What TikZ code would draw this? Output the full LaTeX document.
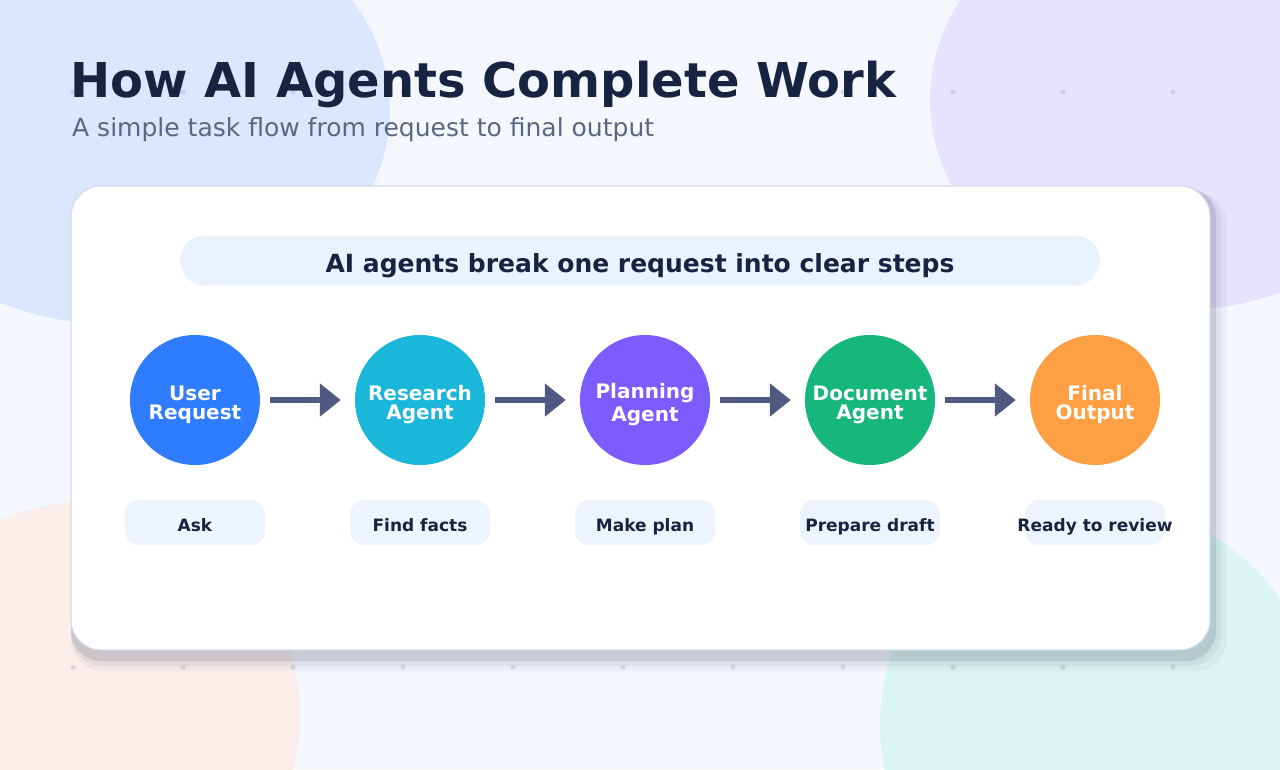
\documentclass[tikz,border=0pt]{standalone}
\usepackage{fontspec}
\setmainfont{DejaVu Sans}
\usetikzlibrary{arrows.meta}
\definecolor{bg}{HTML}{F4F7FE}
\definecolor{blobblue}{HTML}{DAE7FE}
\definecolor{blobpurple}{HTML}{E7E3FF}
\definecolor{blobpeach}{HTML}{FBEEEA}
\definecolor{blobmint}{HTML}{DBF6F0}
\definecolor{navy}{HTML}{172341}
\definecolor{subgrey}{HTML}{5B6781}
\definecolor{cardline}{HTML}{D3DAE9}
\definecolor{bannerfill}{HTML}{EAF2FE}
\definecolor{pillfill}{HTML}{EEF4FE}
\definecolor{arrowc}{HTML}{4F5A80}
\definecolor{cblue}{HTML}{2F7CFF}
\definecolor{ccyan}{HTML}{1BB7DA}
\definecolor{cpurple}{HTML}{7B5CFF}
\definecolor{cgreen}{HTML}{16B67C}
\definecolor{corange}{HTML}{FF9F43}
\definecolor{shadowc}{HTML}{1F2A4A}
\begin{document}
\begin{tikzpicture}[x=1pt,y=-1pt,
  agent/.style={circle, minimum size=130pt, inner sep=0pt},
  agenttext/.style={inner sep=0pt, text=white, align=center,
    font=\bfseries\fontsize{20}{19}\selectfont},
  pill/.style={rectangle, rounded corners=14pt, fill=pillfill, minimum width=140pt,
    minimum height=45pt, inner sep=0pt, text=navy, text height=17pt, text depth=0pt,
    font=\bfseries\fontsize{17}{19}\selectfont},
  flow/.style={arrowc, line width=6pt, -{Triangle[length=21pt,width=32pt]}},
  gdot/.style={fill=shadowc, fill opacity=0.12},
]
\useasboundingbox (0,0) rectangle (1280,769);
\begin{scope}
\clip (0,0) rectangle (1280,769);
\fill[bg] (0,0) rectangle (1280,769);
\fill[blobblue] (120,110) ellipse[x radius=270pt, y radius=215pt];
\fill[blobpurple] (1180,100) ellipse[x radius=250pt, y radius=210pt];
\fill[blobpeach] (87,715) circle[radius=213pt];
\fill[blobmint] (1100,725) circle[radius=220pt];
\foreach \x in {73,183,...,1173} {
  \fill[gdot] (\x,92) circle[radius=2.5pt];
  \fill[gdot] (\x,667) circle[radius=2.5pt];
}
\end{scope}
% title
\node[anchor=base west, inner sep=0pt, text=navy, font=\bfseries\fontsize{48}{56}\selectfont]
  (title) at (70,97) {How AI Agents Complete Work};
\node[anchor=base west, inner sep=0pt, text=subgrey, font=\fontsize{25}{29}\selectfont]
  (subtitle) at (72,136) {A simple task flow from request to final output};
% card shadow
\fill[shadowc, opacity=0.04, rounded corners=32pt] (71,192) rectangle (1227,671);
\fill[shadowc, opacity=0.06, rounded corners=31pt] (71,190) rectangle (1221,666);
\fill[shadowc, opacity=0.12, rounded corners=30pt] (71,188) rectangle (1216,661);
% card
\node[draw=cardline, line width=1.2pt, fill=white, rounded corners=30pt,
  minimum width=1139pt, minimum height=464pt, inner sep=0pt] (card) at (640.5,418) {};
% banner
\node[fill=bannerfill, rounded corners=25pt, minimum width=920pt, minimum height=50pt,
  inner sep=0pt, text=navy, text height=23pt, text depth=0pt,
  font=\bfseries\fontsize{25}{29}\selectfont] (banner) at (640,260.5)
  {AI agents break one request into clear steps};
% agents
\node[agent, fill=cblue] (c1) at (195,400) {};
\node[agent, fill=ccyan] (c2) at (420,400) {};
\node[agent, fill=cpurple] (c3) at (645,400) {};
\node[agent, fill=cgreen] (c4) at (870,400) {};
\node[agent, fill=corange] (c5) at (1095,400) {};
\node[agenttext] (t1) at ([yshift=-4.5pt]c1.center) {User\\Request};
\node[agenttext] (t2) at ([yshift=-4.5pt]c2.center) {Research\\Agent};
\node[agenttext] (t3) at ([yshift=-4.5pt]c3.center) {Planning\\[4pt]Agent};
\node[agenttext] (t4) at ([yshift=-4.5pt]c4.center) {Document\\Agent};
\node[agenttext] (t5) at ([yshift=-4.5pt]c5.center) {Final\\Output};
% arrows
\draw[flow] ([xshift=10pt]c1.east) -- ([xshift=-14pt]c2.west);
\draw[flow] ([xshift=10pt]c2.east) -- ([xshift=-14pt]c3.west);
\draw[flow] ([xshift=10pt]c3.east) -- ([xshift=-14pt]c4.west);
\draw[flow] ([xshift=10pt]c4.east) -- ([xshift=-14pt]c5.west);
% pills
\node[pill] (p1) at (195,522.5) {\makebox[0pt]{Ask}};
\node[pill] (p2) at (420,522.5) {\makebox[0pt]{Find facts}};
\node[pill] (p3) at (645,522.5) {\makebox[0pt]{Make plan}};
\node[pill] (p4) at (870,522.5) {\makebox[0pt]{Prepare draft}};
\node[pill] (p5) at (1095,522.5) {\makebox[0pt]{Ready to review}};
\end{tikzpicture}
\end{document}
